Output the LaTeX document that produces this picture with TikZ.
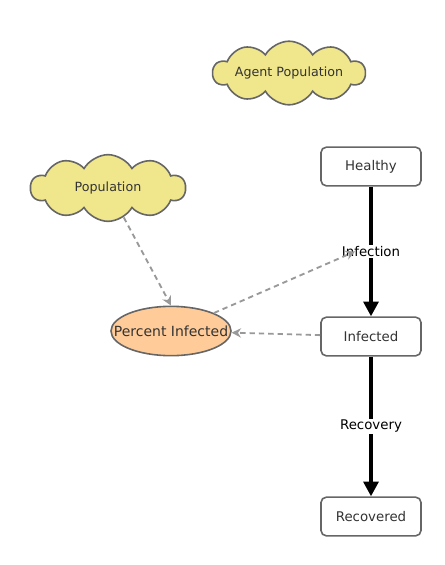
\documentclass[tikz,border=0pt]{standalone}
\usepackage{fontspec}
\setmainfont{DejaVu Sans}
\usetikzlibrary{arrows.meta,shapes.symbols,shapes.geometric}
\definecolor{edge}{HTML}{666666}
\definecolor{ink}{HTML}{333333}
\definecolor{khaki}{HTML}{F0E68C}
\definecolor{peach}{HTML}{FFCC99}
\definecolor{linkgray}{HTML}{999999}
\tikzset{stock/.style={draw=edge,rounded corners=4pt,line width=1.2pt,fill=white,text=ink,minimum width=75pt,minimum height=29pt,font=\fontsize{10}{12}\selectfont},
agent/.style={cloud,cloud puffs=10,cloud puff arc=120,draw=edge,line width=1.2pt,fill=khaki,text=ink,inner sep=0pt,font=\fontsize{9.5}{11}\selectfont},
flow/.style={-{Triangle[length=11pt,width=11pt]},line width=2.8pt,black},
link/.style={-{Stealth[length=7pt,width=7pt]},linkgray,line width=1.4pt,dash pattern=on 4pt off 3pt},
lbl/.style={fill=white,inner sep=1pt,font=\fontsize{10}{12}\selectfont}}

\begin{document}
\begin{tikzpicture}[x=0.75pt,y=-0.75pt]
\useasboundingbox (0,0) rectangle (444,565);
\node[agent,aspect=4,minimum width=114pt,minimum height=45pt] (agentpop) at (289,73) {Agent Population};
\node[agent,aspect=2.3,minimum width=116pt,minimum height=50pt] (population) at (108,188) {Population};
\node[stock] (healthy) at (371,166.5) {Healthy};
\node[stock] (infected) at (371,336.5) {Infected};
\node[stock] (recovered) at (371,516.5) {Recovered};
\node[ellipse,draw=edge,line width=1.2pt,fill=peach,text=ink,minimum width=90pt,minimum height=37pt,inner sep=0pt,inner xsep=-17pt,font=\fontsize{10.5}{12}\selectfont] (percent) at (171,331) {Percent Infected};
\draw[flow] (healthy)--(infected) node[lbl,midway] (infection) {Infection};
\draw[flow] (infected)--(recovered) node[lbl,midway] (recovery) {Recovery};
\draw[link] (population)--(percent.north);
\draw[link] (percent.north east)--([xshift=-12pt]infection.center);
\draw[link] (infected)--(percent);
\end{tikzpicture}
\end{document}
